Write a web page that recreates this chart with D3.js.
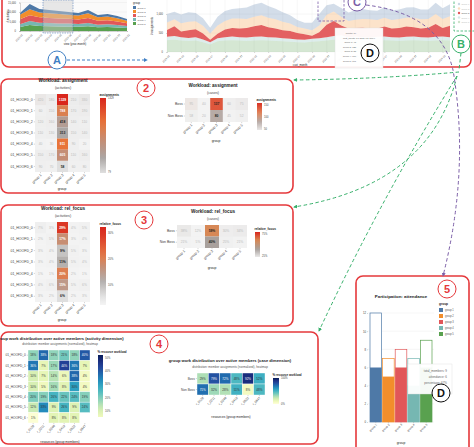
<!DOCTYPE html>
<html>
<head>
<meta charset="utf-8">
<script src="https://cdn.jsdelivr.net/npm/d3@7"></script>
<style>
body { margin: 0; background: #fff; }
svg { display: block; font-family: "Liberation Sans", Arial, sans-serif; }
</style>
</head>
<body>
<svg id="chart" width="474" height="447"></svg>
<script>
// ---- data ----
var groups = ["group 1", "group 2", "group 3", "group 4", "group 5"];
var groupColors = ["#4e79a7", "#f28e2b", "#e15759", "#76b7b2", "#59a14f"];
var selected = 2; // group 3 is picked

// overview (stacked area, top left)
var overviewMonths = ["2023-01","2023-02","2023-03","2023-04","2023-05","2023-06","2023-07","2023-08","2023-09","2023-10","2023-11","2023-12"];
var ovGroup1 = [870, 2800, 1770, 1650, 1620, 1400, 1370, 1650, 1220, 1350, 1190, 910];
var ovGroup2 = [2400, 3100, 2600, 2500, 2300, 2200, 2100, 2500, 1800, 1900, 1700, 1300];
var ovGroup3 = [2600, 3000, 2800, 2700, 2600, 2500, 2300, 2700, 2100, 2200, 1900, 1500];
var ovGroup4 = [1500, 2200, 1800, 1700, 1600, 1600, 1500, 1700, 1300, 1400, 1200, 1000];
var ovGroup5 = [2100, 3100, 2600, 2500, 2400, 2300, 2200, 2500, 2000, 2100, 1900, 1600];
var ovTicks = [0, 5000, 10000, 15000];

// detail (stacked area, top right)
var detGroup1 = [220,200,230,250,220,200,150,230,260,250,270,300,320,330,310,280,250,220,180,150,200,300,250,200,230,220,250,260,240,250,280,260,250,270,280,260,250,300,280,320];
var detGroup2 = [200,180,220,230,210,200,170,220,230,250,260,240,250,260,250,240,230,200,160,150,140,180,260,250,230,200,220,230,240,220,230,220,240,230,250,240,230,260,240,250];
var detGroup3 = [180,260,150,200,210,160,60,120,200,220,230,250,280,300,260,240,210,200,170,150,80,160,330,400,260,230,220,250,240,220,260,230,250,270,240,230,260,340,220,300];
var detGroup4 = [90,100,90,80,90,70,60,80,90,100,90,90,100,100,90,90,80,80,70,70,80,80,90,100,110,90,100,90,90,100,100,90,90,100,100,90,90,100,100,90];
var detGroup5 = [310,320,300,290,300,260,200,280,300,310,300,290,300,310,300,290,280,270,260,250,270,280,300,320,330,300,310,300,290,300,310,300,290,300,310,300,290,300,310,300];
var detTicks = [0, 500, 1000];
var tooltipTop = ["month: 19", "cust_month: 17 (2024-07 [Tue])", "group 1: 48", "group 2: 125", "group 3: 88", "group 4: 100", "group 5: 101"];

// workload heatmaps
var activities = ["01_HOOFD_0", "01_HOOFD_1", "01_HOOFD_2", "01_HOOFD_3", "01_HOOFD_4", "01_HOOFD_5", "01_HOOFD_6"];
var caseTypes = ["Boss", "Non Boss"];
var assignAct = [
  [420, 180, 1329, 210, 330],
  [60, 150, 788, 170, 190],
  [120, 160, 418, 140, 110],
  [110, 130, 313, 150, 140],
  [40, 30, 911, 90, 20],
  [150, 170, 605, 110, 160],
  [90, 70, 58, 60, 80]
];
var assignCase = [[95, 40, 137, 60, 75], [58, 20, 80, 45, 52]];
var focusAct = [
  [0.07, 0.03, 0.29, 0.04, 0.05],
  [0.02, 0.05, 0.17, 0.03, 0.04],
  [0.03, 0.04, 0.09, 0.05, 0.03],
  [0.03, 0.04, 0.11, 0.05, 0.04],
  [0.01, 0.01, 0.20, 0.02, 0.01],
  [0.04, 0.06, 0.15, 0.05, 0.06],
  [0.03, 0.02, 0.06, 0.02, 0.03]
];
var focusCase = [[0.38, 0.12, 0.59, 0.30, 0.34], [0.21, 0.05, 0.40, 0.25, 0.21]];

// work distribution heatmaps
var resources = ["r_0128", "r_0211", "r_0346", "r_0419", "r_0532", "r_0647"];
var distAct = [
  [0.18, 0.38, 0.18, 0.21, 0.18, 0.40],
  [0.36, 0.07, 0.17, 0.44, 0.36, 0.07],
  [0.10, 0.07, 0.14, 0.06, 0.38, 0.04],
  [0.10, 0.05, 0.16, 0.08, 0.30, 0.04],
  [0.20, 0.19, 0.26, 0.22, 0.24, 0.19],
  [0.12, 0.33, 0.09, 0.26, 0.09, 0.24],
  [0.01, null, 0.08, 0.08, 0.08, null]
];
var distCase = [[0.29, 0.79, 0.72, 0.48, 0.92, 0.52], [0.71, 0.32, 0.28, 0.51, 0.08, 0.48]];

// attendance
var totalMembers = [12, 7, 8, 7, 9];
var attendance = [6, 5, 6, 4, 6];
var attTicks = [0, 2, 4, 6, 8, 10, 12];
var tooltipBar = ["total_members: 9", "attendance: 6", "percentage: 67%"];

// ---- drawing ----
var svg = d3.select("#chart");
svg.append("rect").attr("width", 474).attr("height", 447).attr("fill", "#fff");
var defs = svg.append("defs");

function marker(id, color) {
  defs.append("marker").attr("id", id)
    .attr("viewBox", "0 0 10 10").attr("refX", 8).attr("refY", 5)
    .attr("markerWidth", 4).attr("markerHeight", 4).attr("orient", "auto")
    .append("path").attr("d", "M0,0L10,5L0,10z").attr("fill", color);
}
marker("arBlue", "#3f7fc4");
marker("arGreen", "#36b06a");
marker("arPurple", "#7b5ea7");

function styleAxis(g, fs) {
  g.attr("font-size", fs).attr("font-family", null);
  g.select(".domain").attr("stroke", "#999").attr("stroke-width", 0.4);
  g.selectAll(".tick line").attr("stroke", "#999").attr("stroke-width", 0.4);
  g.selectAll(".tick text").attr("fill", "#444");
}

function rotateLabels(g) {
  g.selectAll(".tick text")
    .attr("transform", "rotate(-45)")
    .attr("dx", "-0.4em").attr("dy", "0.3em")
    .style("text-anchor", "end");
}

function label(x, y, txt, fs, opts) {
  opts = opts || {};
  return svg.append("text").attr("x", x).attr("y", y).text(txt)
    .attr("font-size", fs).attr("text-anchor", opts.anchor || "middle")
    .attr("font-weight", opts.bold ? "bold" : null)
    .attr("fill", opts.fill || "#222");
}

// red panel frames
function panel(x, y, w, h) {
  svg.append("rect").attr("x", x).attr("y", y).attr("width", w).attr("height", h)
    .attr("rx", 7).attr("fill", "none").attr("stroke", "#e5383b").attr("stroke-width", 1.6);
}
panel(2, -20, 469, 87);
panel(1, 79, 292, 114);
panel(1, 205, 292, 121);
panel(1, 332, 317, 112);
panel(356, 276, 113, 190);

// ---------- overview stacked area ----------
var ovTable = overviewMonths.map(function(m, i) {
  return {month: m, "group 1": ovGroup1[i], "group 2": ovGroup2[i], "group 3": ovGroup3[i], "group 4": ovGroup4[i], "group 5": ovGroup5[i]};
});
var stackKeys = ["group 5", "group 4", "group 3", "group 2", "group 1"];
var ovX = d3.scalePoint().domain(overviewMonths).range([20, 127]);
var ovY = d3.scaleLinear().domain([0, 15000]).range([31, 2.5]);
var ovStack = d3.stack().keys(stackKeys)(ovTable);
var ovG = svg.append("g");
ovG.append("rect").attr("x", 20).attr("y", 0).attr("width", 107).attr("height", 31).attr("fill", "#fafafa");
ovG.selectAll(".grid").data(ovTicks).enter().append("line")
  .attr("x1", 20).attr("x2", 127).attr("y1", d => ovY(d)).attr("y2", d => ovY(d))
  .attr("stroke", "#e6e6e6").attr("stroke-width", 0.4);
ovG.selectAll(".layer").data(ovStack).enter().append("path")
  .attr("fill", d => groupColors[groups.indexOf(d.key)])
  .attr("d", d3.area().x(d => ovX(d.data.month)).y0(d => ovY(d[0])).y1(d => ovY(d[1])));
ovG.append("rect").attr("x", 43).attr("y", 0).attr("width", 30).attr("height", 33)
  .attr("fill", "#d0d0d0").attr("fill-opacity", 0.45)
  .attr("stroke", "#3f6fb0").attr("stroke-width", 0.5).attr("stroke-dasharray", "1.5,1");
var ovYAxis = ovG.append("g").attr("transform", "translate(20,0)")
  .call(d3.axisLeft(ovY).tickValues(ovTicks).tickFormat(d3.format(",")).tickSize(1));
styleAxis(ovYAxis, 2.6);
var ovXAxis = ovG.append("g").attr("transform", "translate(0,31)")
  .call(d3.axisBottom(ovX).tickSize(1));
styleAxis(ovXAxis, 2.6);
rotateLabels(ovXAxis);
label(75, 45, "view (year-month)", 2.8);
svg.append("text").attr("transform", "translate(9,16) rotate(-90)").attr("text-anchor", "middle")
  .attr("font-size", 2.8).attr("fill", "#222").text("# activities");
label(133, 4, "group", 2.8, {anchor: "start"});
groups.forEach(function(gname, i) {
  svg.append("rect").attr("x", 133).attr("y", 6 + i * 4).attr("width", 3).attr("height", 3).attr("fill", groupColors[i]);
  label(137.5, 8.5 + i * 4, gname, 2.4, {anchor: "start", fill: "#555"});
});

// ---------- detail stacked area ----------
var detMonths = d3.timeMonth.range(new Date(2021, 0, 1), new Date(2024, 4, 1));
var detTable = detMonths.map(function(m, i) {
  return {month: m, "group 1": detGroup1[i], "group 2": detGroup2[i], "group 3": detGroup3[i], "group 4": detGroup4[i], "group 5": detGroup5[i]};
});
var detX = d3.scaleTime().domain(d3.extent(detMonths)).range([167, 450]);
var detY = d3.scaleLinear().domain([0, 1370]).range([52, 0]);
var detStack = d3.stack().keys(stackKeys)(detTable);
var detG = svg.append("g");
detG.selectAll(".vgrid").data(detX.ticks(d3.timeMonth.every(2))).enter().append("line")
  .attr("x1", d => detX(d)).attr("x2", d => detX(d)).attr("y1", 0).attr("y2", 52)
  .attr("stroke", "#ececec").attr("stroke-width", 0.4);
detG.selectAll(".hgrid").data(detTicks).enter().append("line")
  .attr("x1", 167).attr("x2", 450).attr("y1", d => detY(d)).attr("y2", d => detY(d))
  .attr("stroke", "#ececec").attr("stroke-width", 0.4);
detG.selectAll(".layer").data(detStack).enter().append("path")
  .attr("fill", d => groupColors[groups.indexOf(d.key)])
  .attr("fill-opacity", d => groups.indexOf(d.key) === selected ? 0.95 : 0.25)
  .attr("d", d3.area().x(d => detX(d.data.month)).y0(d => detY(d[0])).y1(d => detY(d[1])));
var detYAxis = detG.append("g").attr("transform", "translate(167,0)")
  .call(d3.axisLeft(detY).tickValues(detTicks).tickFormat(d3.format(",")).tickSize(1));
styleAxis(detYAxis, 2.6);
detYAxis.select(".domain").remove();
var detXAxis = detG.append("g").attr("transform", "translate(0,52)")
  .call(d3.axisBottom(detX).ticks(d3.timeMonth.every(2)).tickFormat(d3.timeFormat("%Y-%m")).tickSize(1));
styleAxis(detXAxis, 2.6);
detXAxis.select(".domain").remove();
rotateLabels(detXAxis);
label(300, 66, "cust_month", 2.8);
svg.append("text").attr("transform", "translate(153,26) rotate(-90)").attr("text-anchor", "middle")
  .attr("font-size", 2.8).attr("fill", "#222").text("# assignments");

// legend in green dashed box
svg.append("rect").attr("x", 454).attr("y", -2).attr("width", 22).attr("height", 33)
  .attr("fill", "none").attr("stroke", "#36b06a").attr("stroke-width", 0.8).attr("stroke-dasharray", "2.5,1.5");
groups.forEach(function(gname, i) {
  svg.append("circle").attr("cx", 459).attr("cy", 4 + i * 4.5).attr("r", 1.2)
    .attr("fill", groupColors[i]).attr("fill-opacity", i === selected ? 1 : 0.3);
  label(461.5, 5 + i * 4.5, gname, 2.3, {anchor: "start", fill: i === selected ? "#555" : "#bbb"});
});

// purple selection box and tooltip
svg.append("rect").attr("x", 318).attr("y", -2).attr("width", 26).attr("height", 23)
  .attr("fill", "none").attr("stroke", "#7b5ea7").attr("stroke-width", 0.8).attr("stroke-dasharray", "2.5,1.5");
svg.append("rect").attr("x", 335).attr("y", 28).attr("width", 48).attr("height", 40)
  .attr("fill", "#fff").attr("fill-opacity", 0.95).attr("stroke", "#ddd").attr("stroke-width", 0.4);
tooltipTop.forEach(function(t, i) {
  label(i === 1 ? 359 : 356, 34 + i * 4.6, t, 2.3, {anchor: i === 1 ? "middle" : "end", fill: "#666"});
});

// ---------- heatmap helpers ----------
function heatmap(cfg) {
  var g = svg.append("g");
  var x = d3.scaleBand().domain(cfg.cols).range([cfg.left, cfg.right]);
  var y = d3.scaleBand().domain(cfg.rows).range([cfg.top, cfg.bottom]);
  var cells = [];
  cfg.values.forEach(function(row, i) {
    row.forEach(function(v, j) { cells.push({r: cfg.rows[i], c: cfg.cols[j], j: j, v: v}); });
  });
  cells = cells.filter(d => d.v != null);
  if (cfg.panelFill) {
    g.append("rect").attr("x", cfg.left).attr("y", cfg.top)
      .attr("width", cfg.right - cfg.left).attr("height", cfg.bottom - cfg.top).attr("fill", "#f4f4f4");
  }
  g.selectAll(".cell").data(cells).enter().append("rect")
    .attr("x", d => x(d.c)).attr("y", d => y(d.r))
    .attr("width", x.bandwidth()).attr("height", y.bandwidth())
    .attr("fill", d => cfg.color(d.v))
    .attr("fill-opacity", d => cfg.fade && d.j !== selected ? 0.14 : 1)
    .attr("stroke", cfg.stroke || "none").attr("stroke-width", 0.4);
  g.selectAll(".val").data(cells).enter().append("text")
    .attr("x", d => x(d.c) + x.bandwidth() / 2)
    .attr("y", d => y(d.r) + y.bandwidth() / 2 + cfg.fs * 0.35)
    .attr("text-anchor", "middle").attr("font-size", cfg.fs)
    .attr("font-weight", d => cfg.fade && d.j === selected ? "bold" : null)
    .attr("fill", d => cfg.textFill(d))
    .text(d => cfg.fmt(d.v));
  var ya = g.append("g").attr("transform", "translate(" + cfg.left + ",0)")
    .call(d3.axisLeft(y).tickSize(1.2).tickPadding(1));
  styleAxis(ya, cfg.axisFs);
  ya.select(".domain").remove();
  var xa = g.append("g").attr("transform", "translate(0," + cfg.bottom + ")")
    .call(d3.axisBottom(x).tickSize(1.2).tickPadding(1));
  styleAxis(xa, cfg.axisFs);
  xa.select(".domain").remove();
  rotateLabels(xa);
  return g;
}

var gradCount = 0;
function gradLegend(cfg) {
  var id = "grad" + (gradCount++);
  var lg = defs.append("linearGradient").attr("id", id)
    .attr("x1", 0).attr("y1", 1).attr("x2", 0).attr("y2", 0);
  d3.range(0, 1.0001, 0.1).forEach(function(t) {
    var v = cfg.domain[0] + t * (cfg.domain[1] - cfg.domain[0]);
    lg.append("stop").attr("offset", t).attr("stop-color", cfg.color(v));
  });
  var scale = d3.scaleLinear().domain(cfg.domain).range([cfg.y1, cfg.y0]);
  label(cfg.x - 0.5, cfg.y0 - 2.5, cfg.title, cfg.titleFs || 3.2, {anchor: "start", bold: true});
  svg.append("rect").attr("x", cfg.x).attr("y", cfg.y0).attr("width", cfg.w).attr("height", cfg.y1 - cfg.y0)
    .attr("fill", "url(#" + id + ")");
  var ax = svg.append("g").attr("transform", "translate(" + (cfg.x + cfg.w) + ",0)")
    .call(d3.axisRight(scale).tickValues(cfg.ticks).tickFormat(cfg.fmt).tickSize(1).tickPadding(1));
  styleAxis(ax, 2.6);
  ax.select(".domain").remove();
  ax.selectAll(".tick line").attr("stroke", "#fff");
}

var pct = d3.format(".0%");
var workloadColor = d3.scaleLinear().domain([0, 60, 320, 620, 900, 1329])
  .range(["#ffffff", "#dedede", "#aaa5a3", "#c58d74", "#e8773a", "#d9261c"]).clamp(true);
var workloadCaseColor = d3.scaleLinear().domain([40, 80, 115, 160])
  .range(["#f0f0f0", "#b7aba6", "#e2865a", "#d9261c"]).clamp(true);
var focusColor = d3.scaleLinear().domain([0, 0.06, 0.11, 0.16, 0.21, 0.31])
  .range(["#ffffff", "#dedede", "#b5b1af", "#c0937f", "#e47a45", "#d9261c"]).clamp(true);
var focusCaseColor = d3.scaleLinear().domain([0.2, 0.4, 0.6, 0.78])
  .range(["#f0f0f0", "#a8a09c", "#d98752", "#d9261c"]).clamp(true);
var distColor = d3.scaleSequential(d3.interpolateYlGnBu).domain([0, 0.52]).clamp(true);
var distCaseColor = d3.scaleSequential(d3.interpolateYlGnBu).domain([0, 1]);

function wlText(cut) {
  return function(d) {
    if (d.j !== selected) return "#bbb";
    return d.v >= cut ? "#fff" : "#222";
  };
}

// ---------- panel 2 ----------
label(63, 82, "Workload: assignment", 4.6, {bold: true});
label(63, 89, "(activities)", 3.6, {fill: "#444"});
heatmap({cols: groups, rows: activities, values: assignAct, left: 35, right: 90, top: 94, bottom: 172,
  color: workloadColor, fade: true, fs: 3.3, axisFs: 3.5, fmt: d3.format("d"), textFill: wlText(500), panelFill: true});
label(62, 190, "group", 3.4);
gradLegend({x: 100, y0: 98, y1: 173, w: 6, domain: [58, 1329], color: workloadColor,
  ticks: [79, 1329], fmt: d3.format("d"), title: "assignments"});

label(213, 87, "Workload: assignment", 4.6, {bold: true});
label(213, 93.5, "(cases)", 3.6, {fill: "#444"});
heatmap({cols: groups, rows: caseTypes, values: assignCase, left: 185, right: 248, top: 98, bottom: 122,
  color: workloadCaseColor, fade: true, fs: 3.3, axisFs: 3.5, fmt: d3.format("d"), textFill: wlText(200), panelFill: true});
label(216, 142, "group", 3.4);
gradLegend({x: 257, y0: 103, y1: 130, w: 5, domain: [45, 155], color: workloadCaseColor,
  ticks: [50, 100, 150], fmt: d3.format("d"), title: "assignments"});

// ---------- panel 3 ----------
label(63, 210, "Workload: rel_focus", 4.6, {bold: true});
label(63, 217, "(activities)", 3.6, {fill: "#444"});
heatmap({cols: groups, rows: activities, values: focusAct, left: 35, right: 90, top: 222, bottom: 302,
  color: focusColor, fade: true, fs: 3.3, axisFs: 3.5, fmt: pct, textFill: wlText(0.13), panelFill: true});
label(62, 321, "group", 3.4);
gradLegend({x: 100, y0: 227, y1: 305, w: 6, domain: [0.02, 0.32], color: focusColor,
  ticks: [0.1, 0.2, 0.3], fmt: pct, title: "relative_focus"});

label(213, 213, "Workload: rel_focus", 4.6, {bold: true});
label(213, 220, "(cases)", 3.6, {fill: "#444"});
heatmap({cols: groups, rows: caseTypes, values: focusCase, left: 177, right: 247, top: 225, bottom: 248,
  color: focusCaseColor, fade: true, fs: 3.3, axisFs: 3.5, fmt: pct, textFill: wlText(0.9), panelFill: true});
label(212, 269, "group", 3.4);
gradLegend({x: 255, y0: 232, y1: 257, w: 5, domain: [0.22, 0.78], color: focusCaseColor,
  ticks: [0.25, 0.75], fmt: pct, title: "relative_focus"});

// ---------- panel 4 ----------
label(60, 340, "group work distribution over active members (activity dimension)", 4.1, {bold: true});
label(60, 345, "distribution: member assignments (normalized), heatmap", 3, {fill: "#555"});
heatmap({cols: resources, rows: activities, values: distAct, left: 28, right: 90, top: 350, bottom: 423,
  color: distColor, stroke: "#fff", fs: 3, axisFs: 3.2,
  fmt: pct, textFill: d => d.v > 0.33 ? "#fff" : "#333"});
label(60, 443, "resources (group members)", 3.2);
gradLegend({x: 98, y0: 355, y1: 417, w: 5, domain: [0.05, 0.52], color: distColor,
  ticks: [0.1, 0.2, 0.3, 0.4, 0.5], fmt: pct, title: "% resource workload", titleFs: 2.9});

label(230, 362, "group work distribution over active members (case dimension)", 4.1, {bold: true});
label(230, 368, "distribution: member assignments (normalized), heatmap", 3, {fill: "#555"});
heatmap({cols: resources, rows: caseTypes, values: distCase, left: 197, right: 265, top: 373, bottom: 395,
  color: distCaseColor, stroke: "#fff", fs: 3, axisFs: 3.2,
  fmt: pct, textFill: d => d.v > 0.6 ? "#fff" : "#333"});
label(231, 418, "resources (group members)", 3.2);
gradLegend({x: 273, y0: 378, y1: 404, w: 6, domain: [0, 1], color: distCaseColor,
  ticks: [0, 1], fmt: pct, title: "% resource workload", titleFs: 2.9});

// ---------- panel 5 ----------
label(401, 298, "Participation: attendance", 4.4, {bold: true});
var bx = d3.scaleBand().domain(groups).range([370, 432]).paddingInner(0.08);
var by = d3.scaleLinear().domain([0, 12]).range([422, 313]);
var bg = svg.append("g");
bg.selectAll(".grid").data(attTicks).enter().append("line")
  .attr("x1", 368).attr("x2", 434).attr("y1", d => by(d)).attr("y2", d => by(d))
  .attr("stroke", "#e8e8e8").attr("stroke-width", 0.4);
bg.selectAll(".total").data(groups).enter().append("rect")
  .attr("x", d => bx(d)).attr("y", (d, i) => by(totalMembers[i]))
  .attr("width", bx.bandwidth()).attr("height", (d, i) => by(0) - by(totalMembers[i]))
  .attr("fill", "#fff").attr("stroke", (d, i) => groupColors[i]).attr("stroke-width", 0.7);
bg.selectAll(".att").data(groups).enter().append("rect")
  .attr("x", d => bx(d)).attr("y", (d, i) => by(attendance[i]))
  .attr("width", bx.bandwidth()).attr("height", (d, i) => by(0) - by(attendance[i]))
  .attr("fill", (d, i) => groupColors[i]);
var bya = bg.append("g").attr("transform", "translate(368,0)")
  .call(d3.axisLeft(by).tickValues(attTicks).tickSize(1).tickPadding(1));
styleAxis(bya, 2.8);
bya.select(".domain").remove();
var bxa = bg.append("g").attr("transform", "translate(0,422)")
  .call(d3.axisBottom(bx).tickSize(1.2).tickPadding(1));
styleAxis(bxa, 2.8);
bxa.select(".domain").remove();
rotateLabels(bxa);
label(401, 444, "group", 3.3);
label(439, 305, "group", 3.2, {anchor: "start", bold: true});
groups.forEach(function(gname, i) {
  svg.append("rect").attr("x", 439).attr("y", 308 + i * 6).attr("width", 4).attr("height", 4).attr("fill", groupColors[i]);
  label(445, 311.3 + i * 6, gname, 2.6, {anchor: "start", fill: "#555"});
});
svg.append("rect").attr("x", 408).attr("y", 364).attr("width", 44).attr("height", 30)
  .attr("fill", "#fff").attr("fill-opacity", 0.95).attr("stroke", "#ddd").attr("stroke-width", 0.4);
tooltipBar.forEach(function(t, i) {
  label(447, 372 + i * 6, t, 3, {anchor: "end", fill: "#666"});
});

// ---------- connectors ----------
svg.append("line").attr("x1", 67).attr("y1", 60).attr("x2", 147).attr("y2", 60)
  .attr("stroke", "#3f7fc4").attr("stroke-width", 1).attr("stroke-dasharray", "3,2")
  .attr("marker-end", "url(#arBlue)");
function dashed(d, color, mk) {
  svg.append("path").attr("d", d).attr("fill", "none").attr("stroke", color)
    .attr("stroke-width", 1).attr("stroke-dasharray", "3.5,2.5").attr("marker-end", mk ? "url(#" + mk + ")" : null);
}
dashed("M461,53 L459,70", "#36b06a");
dashed("M459,72 Q380,79 294,80", "#36b06a", "arGreen");
dashed("M457,76 Q430,185 294,207", "#36b06a", "arGreen");
dashed("M457,76 Q380,200 319,331", "#36b06a", "arGreen");
dashed("M366,5 Q440,14 453,70 Q470,170 443,276", "#7b5ea7", "arPurple");

// ---------- badges ----------
function badge(x, y, txt, color, r, fs) {
  svg.append("circle").attr("cx", x).attr("cy", y).attr("r", r)
    .attr("fill", "#fff").attr("stroke", color).attr("stroke-width", 1);
  label(x, y + fs * 0.36, txt, fs, {bold: true, fill: color});
}
badge(57, 60, "A", "#3f7fc4", 9, 11);
badge(461, 44, "B", "#36b06a", 9, 11);
badge(357, 2, "C", "#7b5ea7", 9, 11);
badge(370, 53, "D", "#111", 9, 11);
badge(441, 393, "D", "#111", 9, 11);
badge(146, 88, "2", "#e5383b", 9, 11);
badge(144, 220, "3", "#e5383b", 9, 11);
badge(159, 344, "4", "#e5383b", 9, 11);
badge(447, 289, "5", "#e5383b", 9, 11);
</script>
</body>
</html>
